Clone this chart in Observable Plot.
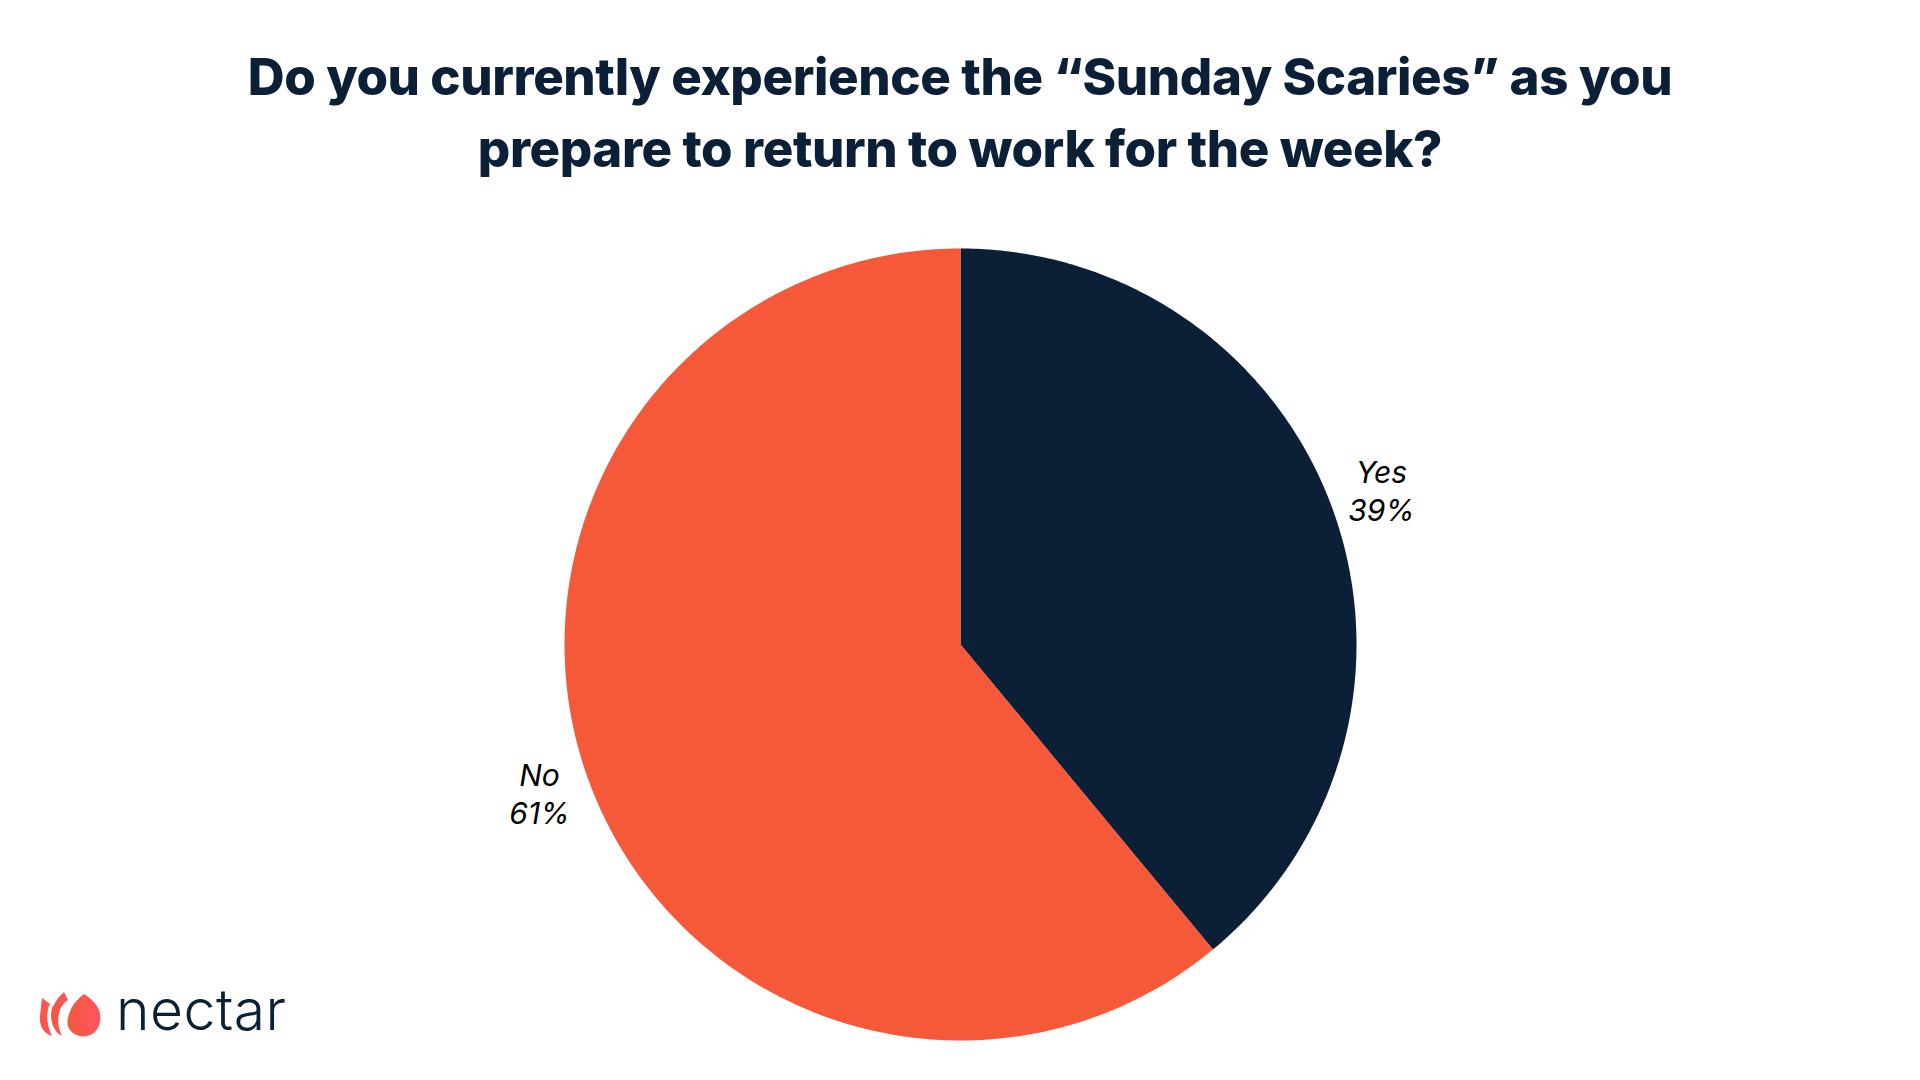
<!DOCTYPE html>
<html>
<head>
<meta charset="utf-8">
<script src="https://cdn.jsdelivr.net/npm/d3@7"></script>
<script src="https://cdn.jsdelivr.net/npm/@observablehq/plot@0.6"></script>
<style>
  html, body { margin: 0; padding: 0; background: #fff; }
  body { width: 1920px; height: 1080px; position: relative; overflow: hidden; font-family: Inter, "Noto Sans", sans-serif; }
  #title { position: absolute; left: 0; top: 0; width: 1920px; height: 200px; text-align: center; color: #0B1F36;
    font-weight: 800; font-size: 51px; line-height: 72px; padding-top: 41px; box-sizing: border-box; letter-spacing: -0.4px; }
  #chart { position: absolute; left: 0; top: 200px; }
  #logo { position: absolute; left: 38px; top: 985px; display: flex; align-items: center; }
  #logo span { font-family: Inter, sans-serif; font-weight: 300; font-size: 57px; color: #0B1F36; margin-left: 12px; letter-spacing: 0.5px; line-height: 1; position: relative; top: -4px; }
</style>
</head>
<body>
<div id="title">Do you currently experience the “Sunday Scaries” as you<br>prepare to return to work for the week?</div>
<div id="chart"></div>
<div id="logo">
  <svg width="66" height="52" viewBox="0 0 66 52">
    <defs>
      <linearGradient id="pg" x1="0" x2="1" y1="0" y2="0">
        <stop offset="0" stop-color="#F5593A"/>
        <stop offset="1" stop-color="#FF5463"/>
      </linearGradient>
    </defs>
    <path d="M4 10 L12 16 C8 24 8 36 14 48 C6 46 1 38 2 28 Z" fill="url(#pg)"/>
    <path d="M20 10 L26 4 L30 12 C20 18 17 34 24 48 C15 44 11 30 14 20 Z" fill="url(#pg)"/>
    <path d="M46 6 C58 14 64 22 62 34 C60 44 52 50 42 48 C32 46 28 38 30 30 C32 20 38 12 46 6 Z" fill="url(#pg)"/>
  </svg>
  <span>nectar</span>
</div>
<script>
const categories = ["Yes", "No"];
const values = [39, 61];
const labels = ["Yes\n39%", "No\n61%"];
const colors = ["#0B1F36", "#F5593A"];

const arcs = d3.pie().sort(null).value(d => d)(values);

// Build slice outlines (polar → cartesian) from the pie angles
const slicePoints = [];
arcs.forEach((a, i) => {
  const steps = 240;
  slicePoints.push({cat: categories[i], x: 0, y: 0});
  for (let k = 0; k <= steps; k++) {
    const t = a.startAngle + (a.endAngle - a.startAngle) * k / steps;
    slicePoints.push({cat: categories[i], x: Math.sin(t), y: Math.cos(t)});
  }
  slicePoints.push({cat: categories[i], x: 0, y: 0});
});

const labelPos = arcs.map((a, i) => {
  const m = (a.startAngle + a.endAngle) / 2;
  return {label: labels[i], x: 1.13 * Math.sin(m), y: 1.13 * Math.cos(m) + 0.008};
});

const plot = Plot.plot({
  width: 1920,
  height: 880,
  marginTop: 48,
  marginBottom: 40,
  marginLeft: 564,
  marginRight: 564,
  x: {domain: [-1, 1], axis: null},
  y: {domain: [-1, 1], axis: null},
  color: {domain: categories, range: colors},
  style: {background: "transparent", overflow: "visible"},
  marks: [
    Plot.line(slicePoints, {x: "x", y: "y", z: "cat", fill: "cat", stroke: "none", curve: "linear"}),
    Plot.text(labelPos, {x: "x", y: "y", text: "label", fontSize: 30, fontStyle: "italic", fontWeight: 400, fill: "#000", lineHeight: 1.27, fontFamily: "Inter, sans-serif"})
  ]
});
document.getElementById("chart").appendChild(plot);
</script>
</body>
</html>
